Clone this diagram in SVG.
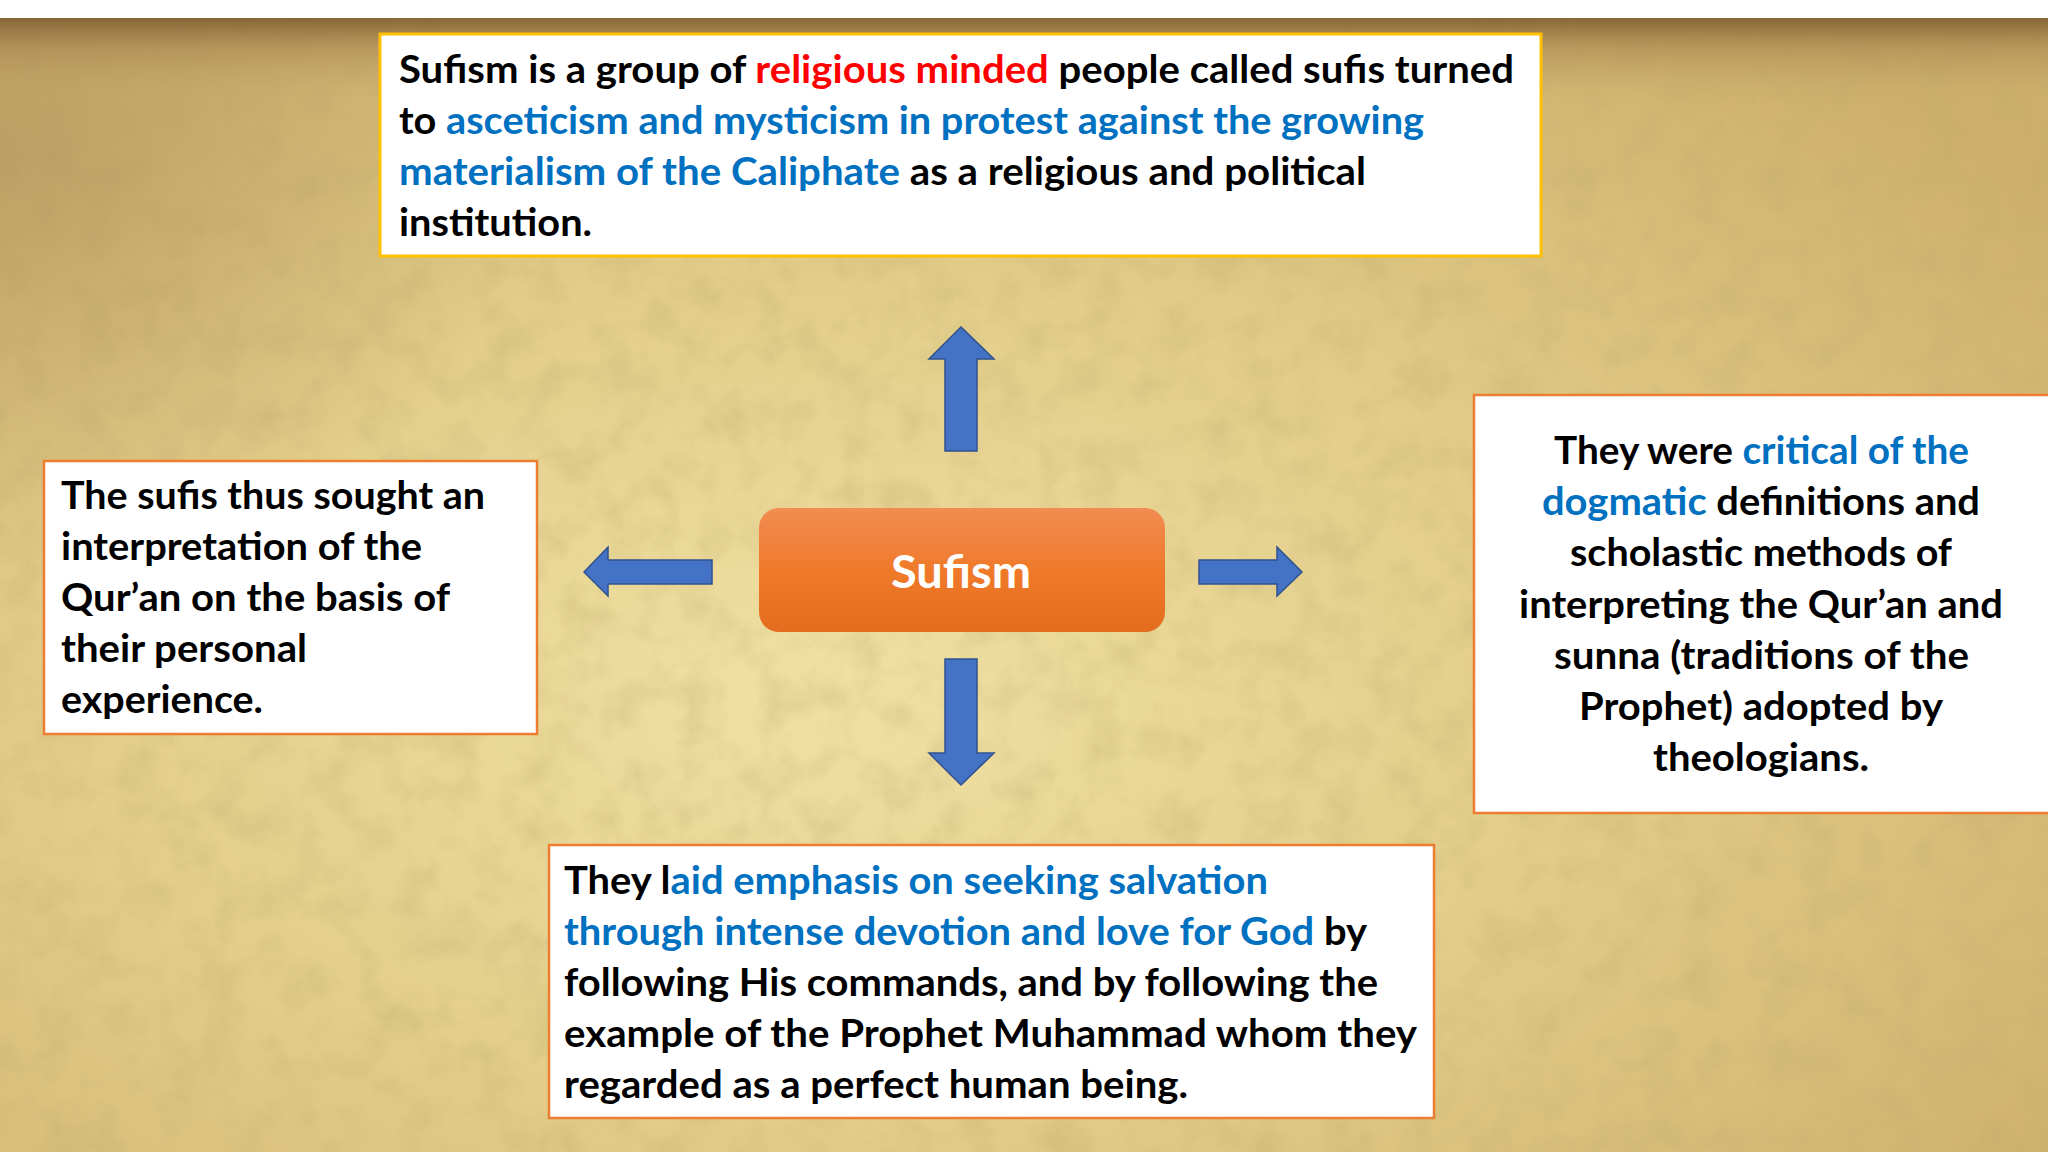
<svg xmlns="http://www.w3.org/2000/svg" width="2048" height="1152" viewBox="0 0 2048 1152">
<defs>
<style>
.t{font-family:Lato,"Liberation Sans","Open Sans",sans-serif;font-weight:bold;font-size:39px;fill:#000000}
.b{fill:#0070C0}
.r{fill:#FF0000}
.box{fill:#FFFFFF;stroke:#ED7D31;stroke-width:2.5}
.boxg{fill:#FFFFFF;stroke:#FFC000;stroke-width:3}
.arr{fill:#4472C4;stroke:#2F528F;stroke-width:1.5}
</style>
<linearGradient id="og" x1="0" y1="0" x2="0" y2="1">
<stop offset="0" stop-color="#F28C52"/>
<stop offset="0.5" stop-color="#F07A2A"/>
<stop offset="1" stop-color="#E36C1E"/>
</linearGradient>
<radialGradient id="bgr" cx="0.4" cy="0.6" r="0.75">
<stop offset="0" stop-color="#F0E1A4"/>
<stop offset="0.5" stop-color="#E2CC88"/>
<stop offset="1" stop-color="#CDB06A"/>
</radialGradient>
<linearGradient id="topband" x1="0" y1="0" x2="0" y2="1">
<stop offset="0" stop-color="#7E5E30" stop-opacity="0.9"/>
<stop offset="0.35" stop-color="#A88650" stop-opacity="0.55"/>
<stop offset="1" stop-color="#C9AE70" stop-opacity="0"/>
</linearGradient>
<radialGradient id="tl" cx="0" cy="0.2" r="0.6">
<stop offset="0" stop-color="#A88A58" stop-opacity="0.55"/>
<stop offset="1" stop-color="#A88A58" stop-opacity="0"/>
</radialGradient>
<filter id="noise" x="0" y="0" width="100%" height="100%">
<feTurbulence type="fractalNoise" baseFrequency="0.025" numOctaves="5" seed="7" result="n"/>
<feColorMatrix type="matrix" values="0 0 0 0 0.50  0 0 0 0 0.40  0 0 0 0 0.15  0 0 0 -1.8 1.05"/>
</filter>
</defs>
<rect x="0" y="0" width="2048" height="1152" fill="#FFFFFF"/>
<g id="background">
<rect x="0" y="18" width="2048" height="1134" fill="url(#bgr)"/>
<rect x="0" y="18" width="2048" height="1134" filter="url(#noise)" opacity="0.35"/>
<rect x="0" y="18" width="900" height="700" fill="url(#tl)"/>
<rect x="0" y="18" width="2048" height="90" fill="url(#topband)"/>
</g>
<g id="connectors">
<polygon class="arr" points="961,327 994,359 977,359 977,451 945,451 945,359 929,359"/>
<polygon class="arr" points="945,659 977,659 977,753 994,753 961,785 929,753 945,753"/>
<polygon class="arr" points="584,572 608,547 608,560 712,560 712,584 608,584 608,596"/>
<polygon class="arr" points="1199,560 1277,560 1277,547 1302,572 1277,596 1277,584 1199,584"/>
</g>
<g id="node-center">
<rect x="759" y="508" width="406" height="124" rx="20" ry="20" fill="url(#og)"/>
<text x="891" y="588" class="t" style="font-size:45px;fill:#FFFFFF" textLength="140" lengthAdjust="spacingAndGlyphs">Sufism</text>
</g>
<g id="node-top">
<rect class="boxg" x="380" y="34" width="1161" height="222"/>
<text class="t" x="399" y="83" textLength="1115" lengthAdjust="spacingAndGlyphs">Sufism is a group of <tspan class="r">religious minded</tspan> people called sufis turned</text>
<text class="t" x="399" y="134" textLength="1025" lengthAdjust="spacingAndGlyphs">to <tspan class="b">asceticism and mysticism in protest against the growing</tspan></text>
<text class="t" x="399" y="185" textLength="967" lengthAdjust="spacingAndGlyphs"><tspan class="b">materialism of the Caliphate</tspan> as a religious and political</text>
<text class="t" x="399" y="236" textLength="193" lengthAdjust="spacingAndGlyphs">institution.</text>
</g>
<g id="node-left">
<rect class="box" x="44" y="461" width="493" height="273"/>
<text class="t" x="61" y="509" textLength="424" lengthAdjust="spacingAndGlyphs">The sufis thus sought an</text>
<text class="t" x="61" y="560" textLength="361" lengthAdjust="spacingAndGlyphs">interpretation of the</text>
<text class="t" x="61" y="611" textLength="389" lengthAdjust="spacingAndGlyphs">Qur’an on the basis of</text>
<text class="t" x="61" y="662" textLength="246" lengthAdjust="spacingAndGlyphs">their personal</text>
<text class="t" x="61" y="713" textLength="202" lengthAdjust="spacingAndGlyphs">experience.</text>
</g>
<g id="node-right">
<rect class="box" x="1474" y="395" width="580" height="418"/>
<text class="t" x="1554" y="464" textLength="415" lengthAdjust="spacingAndGlyphs">They were <tspan class="b">critical of the</tspan></text>
<text class="t" x="1542" y="515" textLength="438" lengthAdjust="spacingAndGlyphs"><tspan class="b">dogmatic</tspan> definitions and</text>
<text class="t" x="1570" y="566" textLength="382" lengthAdjust="spacingAndGlyphs">scholastic methods of</text>
<text class="t" x="1519" y="618" textLength="484" lengthAdjust="spacingAndGlyphs">interpreting the Qur’an and</text>
<text class="t" x="1554" y="669" textLength="415" lengthAdjust="spacingAndGlyphs">sunna (traditions of the</text>
<text class="t" x="1579" y="720" textLength="364" lengthAdjust="spacingAndGlyphs">Prophet) adopted by</text>
<text class="t" x="1653" y="771" textLength="216" lengthAdjust="spacingAndGlyphs">theologians.</text>
</g>
<g id="node-bottom">
<rect class="box" x="549" y="845" width="885" height="273"/>
<text class="t" x="564" y="894" textLength="704" lengthAdjust="spacingAndGlyphs">They l<tspan class="b">aid emphasis on seeking salvation</tspan></text>
<text class="t" x="564" y="945" textLength="803" lengthAdjust="spacingAndGlyphs"><tspan class="b">through intense devotion and love for God</tspan> by</text>
<text class="t" x="564" y="996" textLength="814" lengthAdjust="spacingAndGlyphs">following His commands, and by following the</text>
<text class="t" x="564" y="1047" textLength="853" lengthAdjust="spacingAndGlyphs">example of the Prophet Muhammad whom they</text>
<text class="t" x="564" y="1098" textLength="624" lengthAdjust="spacingAndGlyphs">regarded as a perfect human being.</text>
</g>
</svg>
